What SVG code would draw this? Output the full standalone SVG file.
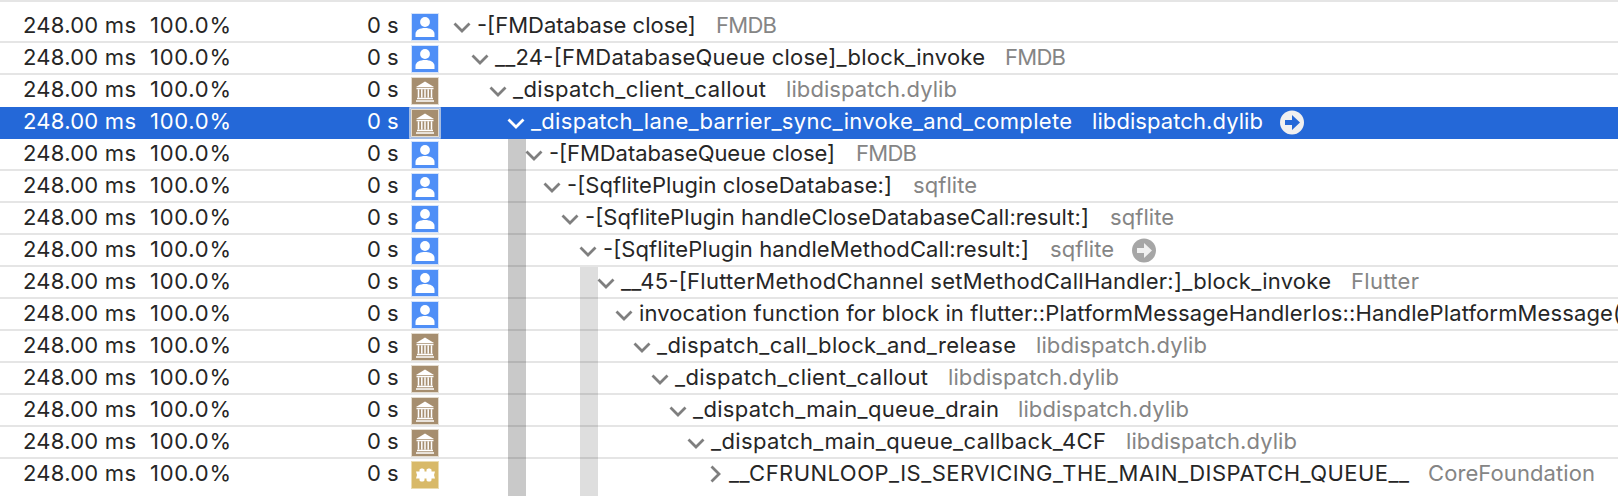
<svg xmlns="http://www.w3.org/2000/svg" width="1618" height="496" viewBox="0 0 1618 496">
<style>
text{font-family:Inter,"Liberation Sans",sans-serif;font-size:22px;fill:#262626}
.l{fill:#858585}
.w{fill:#fff}
.c{fill:none;stroke:#7f7f7f;stroke-width:2.8}
.s{fill:rgba(0,0,0,.1)}
</style>
<defs>
<g id="user"><rect x="0.5" y="0.5" width="27" height="27" fill="#4f8ff7" stroke="#d6e4fb"/><circle cx="14" cy="9" r="4.900" fill="#fff"/><path d="M4.500 24v-3c0-4 4.500-6 9.500-6s9.500 2 9.500 6v3z" fill="#fff"/></g>
<g id="bank"><rect x="0.500" y="0.500" width="27" height="27" fill="#a68e6f" stroke="#e4dccf"/><path d="M14 4.500l9 5.500H5z" fill="#fff"/><path d="M5.500 11.500h17M7.500 12.500v8M10.800 12.500v8M14 12.500v8M17.200 12.500v8M20.500 12.500v8M6 21.500h16M5 24h18" stroke="#fff" stroke-width="1.500" fill="none"/></g>
<g id="ext"><rect x="0.500" y="0.500" width="27" height="27" fill="#d8b968" stroke="#ebdcb0"/><path d="M5 10.500h3.500v-1.500c0-2 5-2 5 0v1.500h2v-1.500c0-2 5-2 5 0v1.500H24l-1 3.500 1 3.500h-3.500v1.500c0 2-5 2-5 0v-1.500h-2v1.500c0 2-5 2-5 0v-1.500H5l1-3.500z" fill="#fff"/></g>
<path id="d" class="c" d="M-7.500-3.500 0 4 7.500-3.500"/>
<path id="r" class="c" d="M-3.500-7.500 4 0-3.500 7.500"/>
</defs>
<rect width="1618" height="496" fill="#fff"/>
<rect y="107" width="1618" height="32" fill="#2468d8"/>
<rect x="508" y="139" width="18" height="357" fill="#c9c9c9"/>
<rect x="580" y="267" width="18" height="229" fill="#dedede"/>
<g id="connectors">
<rect class="s" y="0" width="1618" height="2"/><rect class="s" y="41" width="1618" height="2"/><rect class="s" y="73" width="1618" height="2"/><rect class="s" y="169" width="1618" height="2"/><rect class="s" y="201" width="1618" height="2"/><rect class="s" y="233" width="1618" height="2"/><rect class="s" y="265" width="1618" height="2"/><rect class="s" y="297" width="1618" height="2"/><rect class="s" y="329" width="1618" height="2"/><rect class="s" y="361" width="1618" height="2"/><rect class="s" y="393" width="1618" height="2"/><rect class="s" y="425" width="1618" height="2"/><rect class="s" y="457" width="1618" height="2"/>
</g>
<g id="n0"><text x="23" y="33" textLength="113">248.00 ms</text><text x="150" y="33" textLength="81">100.0%</text><text x="367" y="33">0 s</text><use href="#user" x="411" y="13"/><use href="#d" x="462" y="27"/><text x="477" y="33">-[FMDatabase close]</text><text class="l" x="716" y="33" textLength="61">FMDB</text></g>
<g id="n1"><text x="23" y="65" textLength="113">248.00 ms</text><text x="150" y="65" textLength="81">100.0%</text><text x="367" y="65">0 s</text><use href="#user" x="411" y="45"/><use href="#d" x="480" y="59"/><text x="495" y="65" textLength="490">__24-[FMDatabaseQueue close]_block_invoke</text><text class="l" x="1005" y="65" textLength="61">FMDB</text></g>
<g id="n2"><text x="23" y="97" textLength="113">248.00 ms</text><text x="150" y="97" textLength="81">100.0%</text><text x="367" y="97">0 s</text><use href="#bank" x="411" y="77"/><use href="#d" x="498" y="91"/><text x="513" y="97" textLength="253">_dispatch_client_callout</text><text class="l" x="786" y="97" textLength="171">libdispatch.dylib</text></g>
<g id="n3"><text class="w" x="23" y="129" textLength="113">248.00 ms</text><text class="w" x="150" y="129" textLength="81">100.0%</text><text class="w" x="367" y="129">0 s</text><rect x="410" y="108" width="30" height="30" fill="none" stroke="#cfd8e6" stroke-width="1.500"/><use href="#bank" x="411" y="109"/><path d="M508.500 119.500l7.500 7.500 7.500-7.500" fill="none" stroke="#fff" stroke-width="2.800"/><text class="w" x="531" y="129" textLength="541">_dispatch_lane_barrier_sync_invoke_and_complete</text><text class="w" x="1092" y="129" textLength="171">libdispatch.dylib</text><circle cx="1292" cy="122.500" r="12" fill="#f0f0f0"/><path d="M1285 120h7v-5l8 7.500-8 7.500v-5h-7z" fill="#2468d8"/></g>
<g id="n4"><text x="23" y="161" textLength="113">248.00 ms</text><text x="150" y="161" textLength="81">100.0%</text><text x="367" y="161">0 s</text><use href="#user" x="411" y="141"/><use href="#d" x="534" y="155"/><text x="549" y="161" textLength="286">-[FMDatabaseQueue close]</text><text class="l" x="856" y="161" textLength="61">FMDB</text></g>
<g id="n5"><text x="23" y="193" textLength="113">248.00 ms</text><text x="150" y="193" textLength="81">100.0%</text><text x="367" y="193">0 s</text><use href="#user" x="411" y="173"/><use href="#d" x="552" y="187"/><text x="567" y="193" textLength="325">-[SqflitePlugin closeDatabase:]</text><text class="l" x="913" y="193" textLength="64">sqflite</text></g>
<g id="n6"><text x="23" y="225" textLength="113">248.00 ms</text><text x="150" y="225" textLength="81">100.0%</text><text x="367" y="225">0 s</text><use href="#user" x="411" y="205"/><use href="#d" x="570" y="219"/><text x="585" y="225" textLength="504">-[SqflitePlugin handleCloseDatabaseCall:result:]</text><text class="l" x="1110" y="225" textLength="64">sqflite</text></g>
<g id="n7"><text x="23" y="257" textLength="113">248.00 ms</text><text x="150" y="257" textLength="81">100.0%</text><text x="367" y="257">0 s</text><use href="#user" x="411" y="237"/><use href="#d" x="588" y="251"/><text x="603" y="257" textLength="426">-[SqflitePlugin handleMethodCall:result:]</text><text class="l" x="1050" y="257" textLength="64">sqflite</text><circle cx="1144" cy="250.500" r="12" fill="#a6a6a6"/><path d="M1137 248h7v-5l8 7.500-8 7.500v-5h-7z" fill="#f0f0f0"/></g>
<g id="n8"><text x="23" y="289" textLength="113">248.00 ms</text><text x="150" y="289" textLength="81">100.0%</text><text x="367" y="289">0 s</text><use href="#user" x="411" y="269"/><use href="#d" x="606" y="283"/><text x="621" y="289" textLength="710">__45-[FlutterMethodChannel setMethodCallHandler:]_block_invoke</text><text class="l" x="1351" y="289" textLength="68">Flutter</text></g>
<g id="n9"><text x="23" y="321" textLength="113">248.00 ms</text><text x="150" y="321" textLength="81">100.0%</text><text x="367" y="321">0 s</text><use href="#user" x="411" y="301"/><use href="#d" x="624" y="315"/><text x="639" y="321" textLength="982">invocation function for block in flutter::PlatformMessageHandlerIos::HandlePlatformMessage(</text></g>
<g id="n10"><text x="23" y="353" textLength="113">248.00 ms</text><text x="150" y="353" textLength="81">100.0%</text><text x="367" y="353">0 s</text><use href="#bank" x="411" y="333"/><use href="#d" x="642" y="347"/><text x="657" y="353" textLength="359">_dispatch_call_block_and_release</text><text class="l" x="1036" y="353" textLength="171">libdispatch.dylib</text></g>
<g id="n11"><text x="23" y="385" textLength="113">248.00 ms</text><text x="150" y="385" textLength="81">100.0%</text><text x="367" y="385">0 s</text><use href="#bank" x="411" y="365"/><use href="#d" x="660" y="379"/><text x="675" y="385" textLength="253">_dispatch_client_callout</text><text class="l" x="948" y="385" textLength="171">libdispatch.dylib</text></g>
<g id="n12"><text x="23" y="417" textLength="113">248.00 ms</text><text x="150" y="417" textLength="81">100.0%</text><text x="367" y="417">0 s</text><use href="#bank" x="411" y="397"/><use href="#d" x="678" y="411"/><text x="693" y="417" textLength="306">_dispatch_main_queue_drain</text><text class="l" x="1018" y="417" textLength="171">libdispatch.dylib</text></g>
<g id="n13"><text x="23" y="449" textLength="113">248.00 ms</text><text x="150" y="449" textLength="81">100.0%</text><text x="367" y="449">0 s</text><use href="#bank" x="411" y="429"/><use href="#d" x="696" y="443"/><text x="711" y="449" textLength="395">_dispatch_main_queue_callback_4CF</text><text class="l" x="1126" y="449" textLength="171">libdispatch.dylib</text></g>
<g id="n14"><text x="23" y="481" textLength="113">248.00 ms</text><text x="150" y="481" textLength="81">100.0%</text><text x="367" y="481">0 s</text><use href="#ext" x="411" y="461"/><use href="#r" x="715" y="474"/><text x="729" y="481" textLength="680">__CFRUNLOOP_IS_SERVICING_THE_MAIN_DISPATCH_QUEUE__</text><text class="l" x="1428" y="481" textLength="167">CoreFoundation</text></g>
</svg>
